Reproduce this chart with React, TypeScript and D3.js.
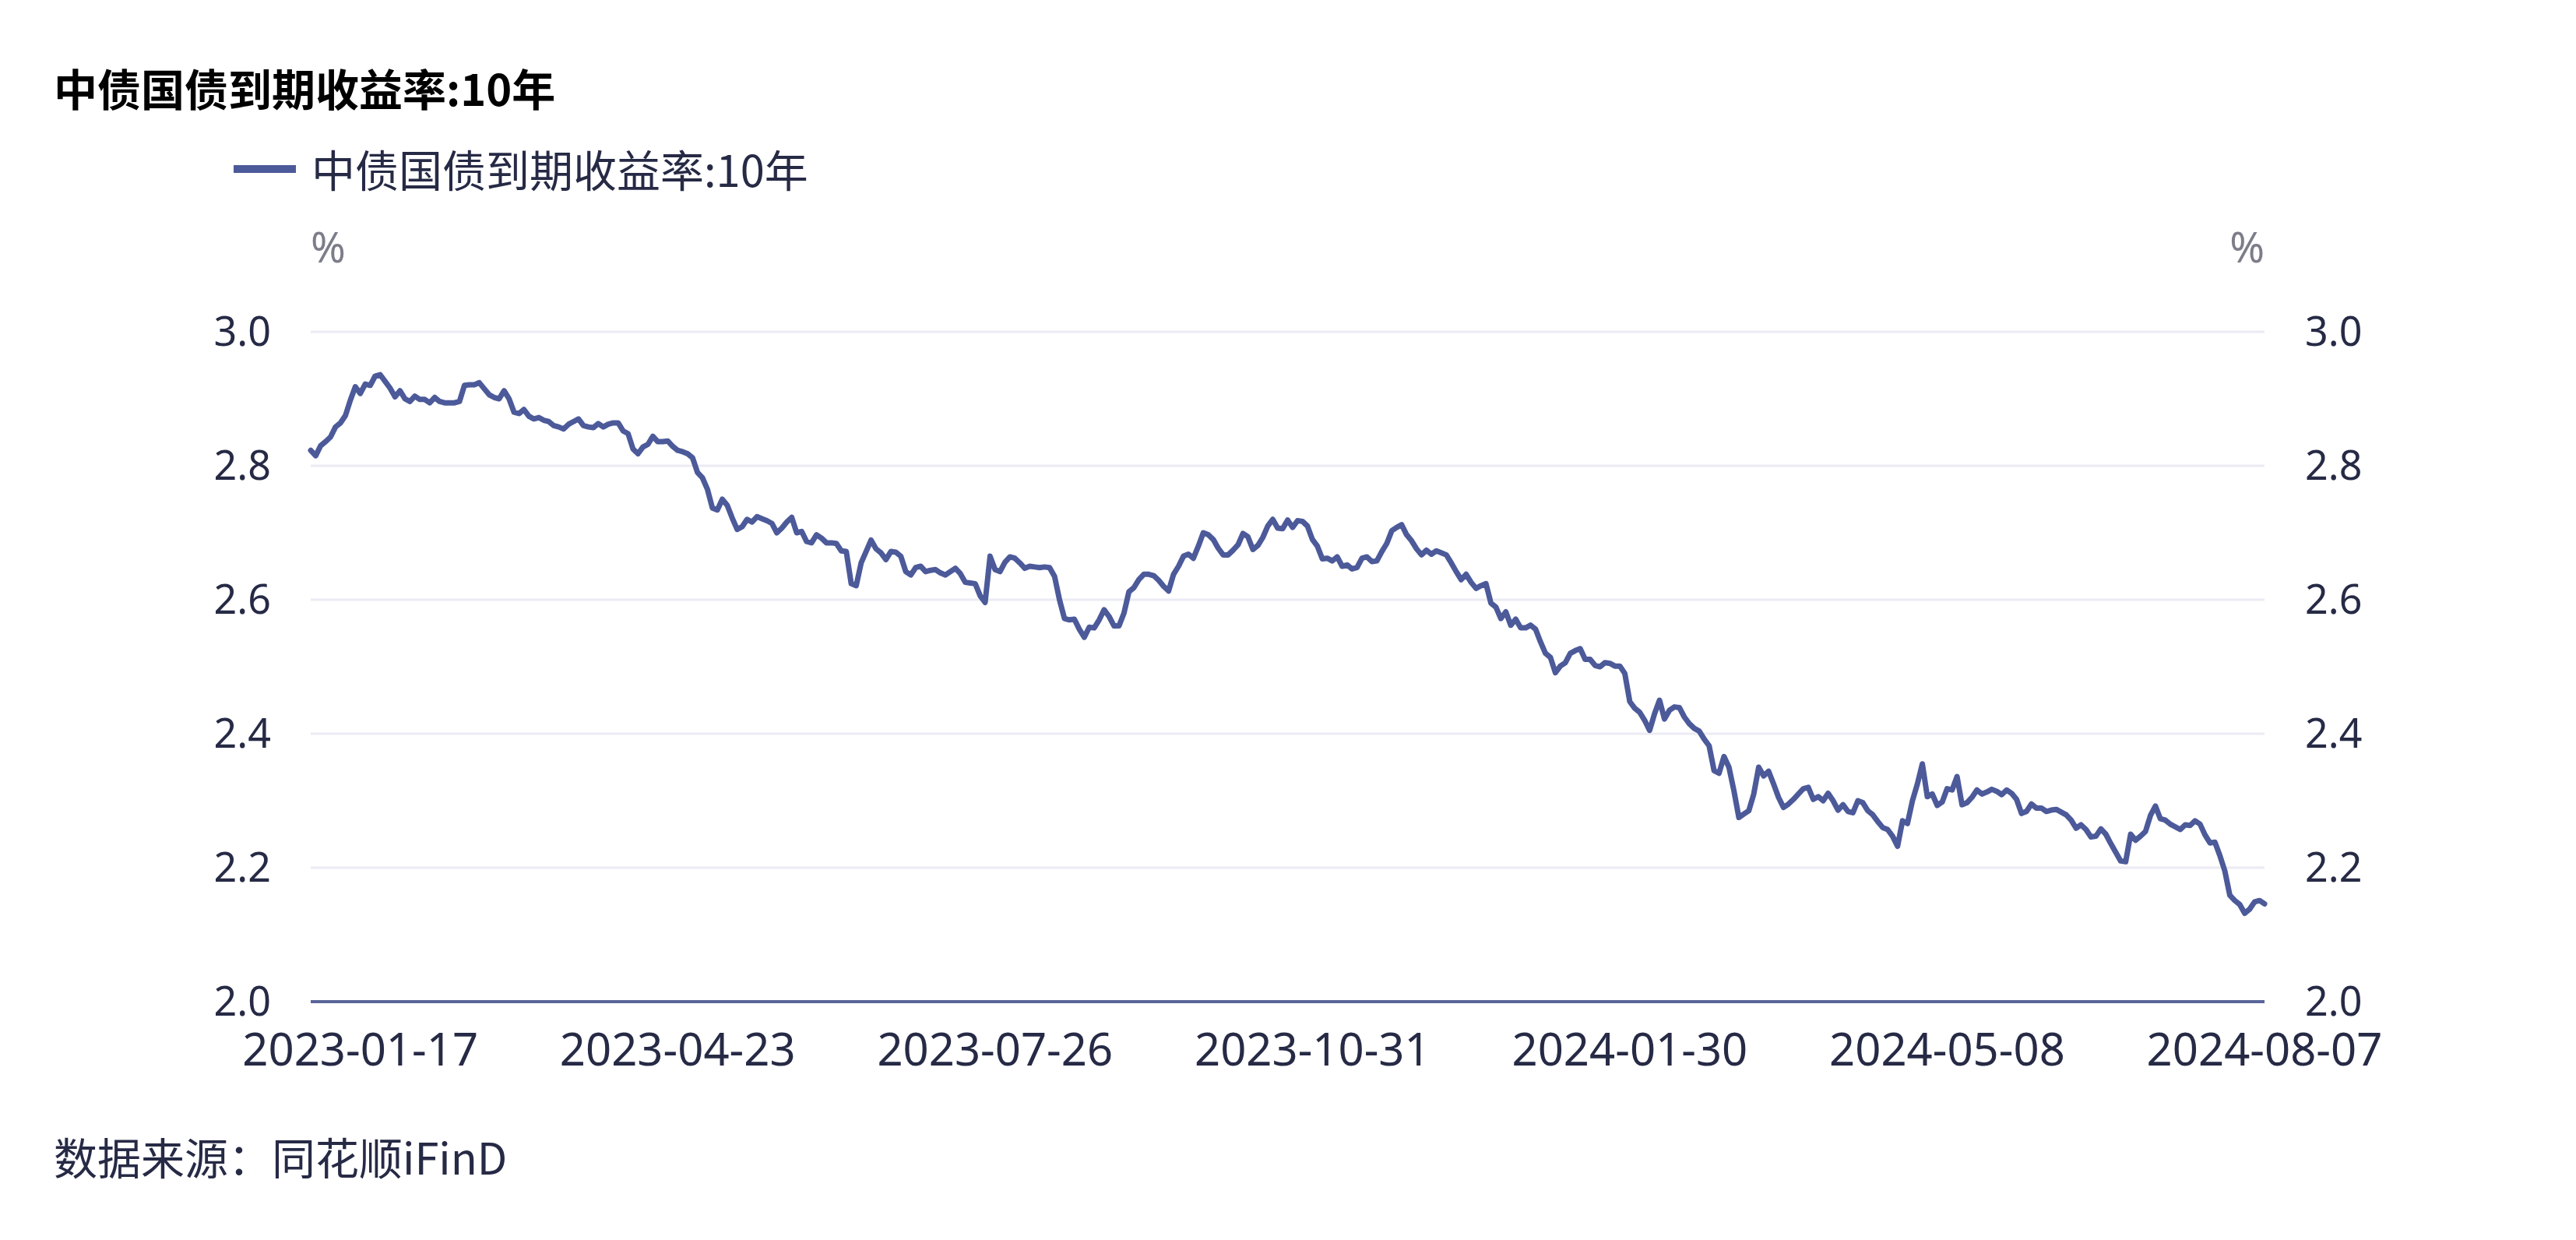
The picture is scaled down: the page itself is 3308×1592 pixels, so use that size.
import React from "react";
import * as d3 from "d3";

const title = "中债国债到期收益率:10年";
const seriesName = "中债国债到期收益率:10年";
const sourceText = "数据来源：同花顺iFinD";
const unitLabel = "%";

// Daily 10Y yield (%), first trading day 2023-01-03 .. 2024-08-07
const yields: number[] = [
  2.823, 2.815, 2.830, 2.836, 2.843, 2.858, 2.864, 2.875, 2.898, 2.918,
  2.908, 2.922, 2.920, 2.934, 2.936, 2.926, 2.916, 2.903, 2.912, 2.900,
  2.896, 2.904, 2.899, 2.899, 2.894, 2.902, 2.896, 2.894, 2.894, 2.894,
  2.896, 2.920, 2.921, 2.921, 2.924, 2.915, 2.906, 2.902, 2.900, 2.912,
  2.900, 2.880, 2.878, 2.884, 2.874, 2.870, 2.872, 2.868, 2.866, 2.860,
  2.858, 2.855, 2.862, 2.866, 2.870, 2.860, 2.858, 2.857, 2.863, 2.858,
  2.862, 2.864, 2.864, 2.852, 2.848, 2.825, 2.818, 2.828, 2.832, 2.844,
  2.836, 2.836, 2.837, 2.829, 2.823, 2.821, 2.818, 2.812, 2.790, 2.782,
  2.765, 2.737, 2.734, 2.750, 2.741, 2.722, 2.705, 2.709, 2.720, 2.716,
  2.724, 2.721, 2.718, 2.714, 2.700, 2.707, 2.716, 2.723, 2.700, 2.702,
  2.687, 2.685, 2.697, 2.692, 2.685, 2.685, 2.684, 2.673, 2.672, 2.624,
  2.621, 2.655, 2.672, 2.689, 2.676, 2.670, 2.660, 2.672, 2.671, 2.665,
  2.642, 2.637, 2.648, 2.650, 2.642, 2.644, 2.645, 2.640, 2.637, 2.642,
  2.647, 2.639, 2.626, 2.625, 2.624, 2.606, 2.596, 2.665, 2.645, 2.642,
  2.656, 2.664, 2.662, 2.655, 2.647, 2.650, 2.649, 2.648, 2.649, 2.648,
  2.635, 2.600, 2.572, 2.570, 2.571, 2.556, 2.544, 2.559, 2.558, 2.570,
  2.585, 2.575, 2.561, 2.561, 2.580, 2.612, 2.618, 2.630, 2.638, 2.638,
  2.636, 2.629, 2.620, 2.613, 2.638, 2.650, 2.665, 2.668, 2.662, 2.680,
  2.700, 2.697, 2.690, 2.677, 2.667, 2.667, 2.674, 2.682, 2.699, 2.694,
  2.675, 2.681, 2.693, 2.710, 2.720, 2.707, 2.706, 2.719, 2.708, 2.718,
  2.717, 2.710, 2.690, 2.680, 2.661, 2.662, 2.658, 2.664, 2.650, 2.652,
  2.646, 2.648, 2.662, 2.664, 2.657, 2.658, 2.672, 2.684, 2.703, 2.708,
  2.712, 2.697, 2.688, 2.676, 2.667, 2.674, 2.668, 2.673, 2.670, 2.667,
  2.655, 2.642, 2.630, 2.638, 2.626, 2.617, 2.621, 2.624, 2.595, 2.589,
  2.572, 2.582, 2.562, 2.571, 2.558, 2.558, 2.562, 2.556, 2.537, 2.520,
  2.514, 2.491, 2.501, 2.506, 2.520, 2.524, 2.527, 2.511, 2.511, 2.502,
  2.500, 2.506, 2.505, 2.501, 2.501, 2.490, 2.448, 2.438, 2.432, 2.420,
  2.405, 2.430, 2.450, 2.422, 2.435, 2.440, 2.439, 2.425, 2.415, 2.408,
  2.404, 2.392, 2.382, 2.345, 2.341, 2.366, 2.350, 2.315, 2.275, 2.280,
  2.285, 2.310, 2.350, 2.337, 2.344, 2.325, 2.305, 2.290, 2.295, 2.302,
  2.310, 2.318, 2.320, 2.302, 2.306, 2.300, 2.311, 2.300, 2.286, 2.294,
  2.284, 2.282, 2.300, 2.297, 2.285, 2.279, 2.269, 2.260, 2.257, 2.247,
  2.232, 2.270, 2.266, 2.300, 2.325, 2.355, 2.306, 2.310, 2.293, 2.298,
  2.318, 2.316, 2.336, 2.294, 2.297, 2.305, 2.316, 2.310, 2.313, 2.317,
  2.314, 2.309, 2.316, 2.311, 2.302, 2.281, 2.284, 2.295, 2.289, 2.289,
  2.284, 2.286, 2.287, 2.283, 2.279, 2.271, 2.259, 2.264, 2.257, 2.246,
  2.247, 2.258, 2.250, 2.236, 2.223, 2.210, 2.209, 2.250, 2.241, 2.247,
  2.254, 2.278, 2.292, 2.273, 2.271, 2.265, 2.261, 2.257, 2.264, 2.263,
  2.270, 2.265, 2.249, 2.237, 2.238, 2.218, 2.195, 2.159, 2.151, 2.145,
  2.132, 2.138, 2.149, 2.151, 2.146,
];

const xTickLabels = ["2023-01-17", "2023-04-23", "2023-07-26", "2023-10-31", "2024-01-30", "2024-05-08", "2024-08-07"];
const xTickIndex = [10, 74, 138, 202, 266, 330, 394];
const yTicks = [2.0, 2.2, 2.4, 2.6, 2.8, 3.0];

const W = 3308;
const H = 1592;
const plot = { left: 399, right: 2908, top: 426, bottom: 1286 };
const FONT = "'Noto Sans', 'Noto Sans CJK SC', sans-serif";
const TEXT = "#262a45";
const LINE = "#4c5a9a";

export default function App() {
  const x = d3.scaleLinear().domain([0, yields.length - 1]).range([plot.left, plot.right]);
  const y = d3.scaleLinear().domain([2.0, 3.0]).range([plot.bottom, plot.top]);
  const line = d3
    .line<number>()
    .x((_, i) => x(i))
    .y((d) => y(d))
    .curve(d3.curveLinear);
  const fmt = d3.format(".1f");

  return (
    <svg
      width={W}
      height={H}
      viewBox={`0 0 ${W} ${H}`}
      style={{ position: "absolute", left: 0, top: 0, display: "block", background: "#fff" }}
      fontFamily={FONT}
    >
      <rect x={0} y={0} width={W} height={H} fill="#fff" />
      <text x={69} y={136} fontSize={56} fontWeight="bold" fill="#000" fontFamily="'Noto Sans CJK SC', sans-serif">
        {title}
      </text>

      {/* legend */}
      <rect x={300} y={212} width={80} height={10} fill={LINE} />
      <text x={400} y={240} fontSize={56} fill={TEXT} fontFamily="'Noto Sans CJK SC', sans-serif">
        {seriesName}
      </text>

      {/* unit labels */}
      <text x={plot.left} y={337} fontSize={54} fill="#7d7d8a">{unitLabel}</text>
      <text x={plot.right} y={337} fontSize={54} fill="#7d7d8a" textAnchor="end">{unitLabel}</text>

      {/* grid */}
      {yTicks.filter((t) => t > 2.0).map((t) => (
        <line key={t} x1={plot.left} x2={plot.right} y1={y(t)} y2={y(t)} stroke="#ebebf4" strokeWidth={3} />
      ))}

      {/* y labels left & right */}
      {yTicks.map((t) => (
        <g key={"yl" + t}>
          <text x={348} y={y(t)} dy="0.34em" fontSize={52} fill={TEXT} textAnchor="end">{fmt(t)}</text>
          <text x={2960} y={y(t)} dy="0.34em" fontSize={52} fill={TEXT} textAnchor="start">{fmt(t)}</text>
        </g>
      ))}

      {/* series */}
      <path d={line(yields) ?? ""} fill="none" stroke={LINE} strokeWidth={7} strokeLinejoin="round" strokeLinecap="round" />

      {/* x axis line */}
      <line x1={plot.left} x2={plot.right} y1={plot.bottom} y2={plot.bottom} stroke="#5a6699" strokeWidth={4} />

      {/* x labels */}
      {xTickIndex.map((idx, k) => (
        <text key={"xt" + k} x={x(idx)} y={1368} fontSize={58} fill={TEXT} textAnchor="middle">
          {xTickLabels[k]}
        </text>
      ))}

      <text x={69} y={1508} fontSize={56} fill={TEXT} fontFamily="'Noto Sans CJK SC', sans-serif">
        {sourceText}
      </text>
    </svg>
  );
}
